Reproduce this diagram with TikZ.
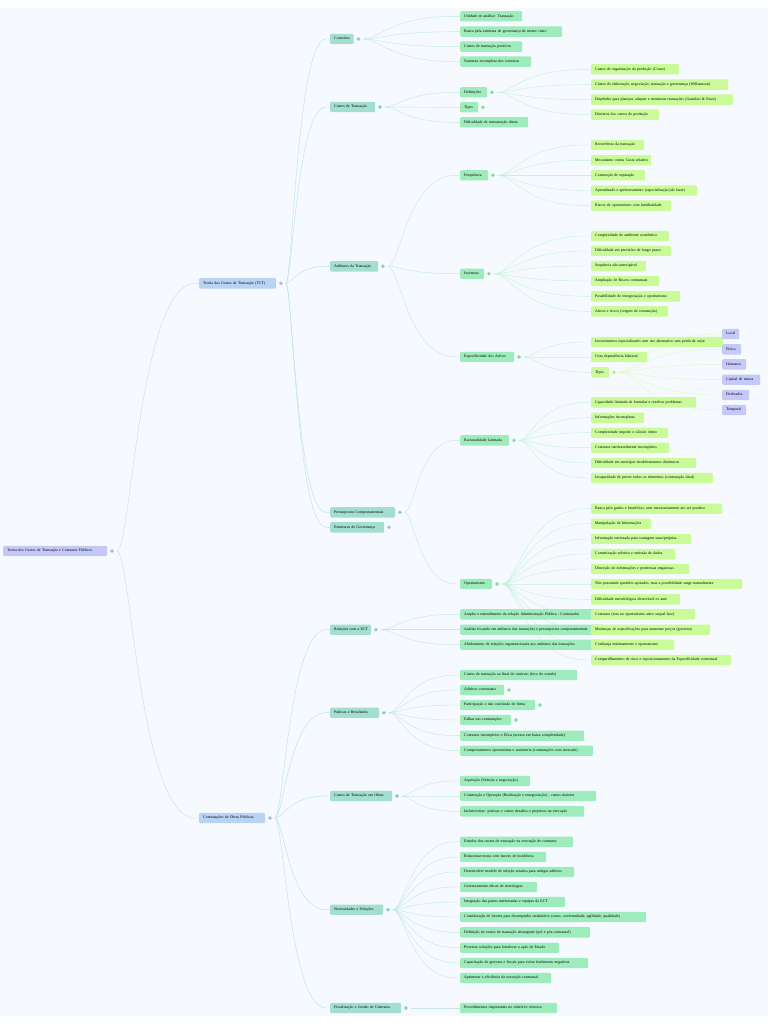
\documentclass[tikz,border=0pt]{standalone}
\usepackage{fontspec}
\setmainfont{Liberation Serif}
\usetikzlibrary{positioning,calc,backgrounds}
\definecolor{pagebg}{HTML}{F6FAFF}
\definecolor{rootc}{HTML}{C5C9FA}
\definecolor{lvla}{HTML}{B9D3F2}
\definecolor{lvlb}{HTML}{A3DFCF}
\definecolor{lvlc}{HTML}{9EECBC}
\definecolor{lvld}{HTML}{C9FC98}
\def\card#1#2#3#4#5#6{\node[cardbox,fill=#1,text width={#5pt-#3pt-8pt}] (#2) at (#3,#4) {\mbox{#6}};}
\def\knob#1#2{\node[knob,fill=#2!85!black,draw=#2,right=2.6pt of #1] (#1k) {};}
\def\link#1#2#3{\draw[linkline,#3] let \p1=(#1.east),\p2=(#2.west),\n1={\x2-\x1} in
  (\x1+3pt,\y1) .. controls (\x1+0.2*\n1,\y1) and (\x2-0.7*\n1,\y2) .. (\x2-4pt,\y2) -- (#2.west);}
\tikzstyle{cardbox}=[anchor=west,rounded corners=1.2pt,inner xsep=4pt,inner ysep=0pt,minimum height=10.4pt,
  text height=2.8pt,text depth=1pt,align=left,font=\fontsize{3.9}{4.4}\selectfont,text=black]
\tikzstyle{knob}=[circle,inner sep=0pt,minimum size=3.4pt,line width=.5pt]
\tikzstyle{linkline}=[line width=.45pt]
\begin{document}
\begin{tikzpicture}[x=1pt,y=-1pt]
  \useasboundingbox (0,0) rectangle (768,1024);
  % root and first level
  \card{rootc}{root}{3}{551}{107}{Teoria dos Custos de Transação e Contratos Públicos}
  \card{lvla}{tct}{199}{283.3}{276}{Teoria dos Custos de Transação (TCT)}
  \card{lvla}{obras}{199}{818}{265}{Contratações de Obras Públicas}
  % second level
  \card{lvlb}{conceito}{330}{39}{353.5}{Conceitos}
  \card{lvlb}{custos}{330}{107}{375}{Custos de Transação}
  \card{lvlb}{atributos}{330}{266.3}{378}{Atributos da Transação}
  \card{lvlb}{pressup}{330}{512.3}{395}{Pressupostos Comportamentais}
  \card{lvlb}{estrut}{330}{527.3}{384}{Estruturas de Governança}
  \card{lvlb}{relacoes}{330}{629.7}{371}{Relações com a ECT}
  \card{lvlb}{praticas}{330}{712.7}{379}{Práticas e Resultados}
  \card{lvlb}{emobras}{330}{796}{392}{Custos de Transação em Obras}
  \card{lvlb}{necess}{330}{909.7}{383}{Necessidades e Soluções}
  \card{lvlb}{fiscal}{330}{1008}{401}{Fiscalização e Gestão de Contratos}
  % third level
  \card{lvlc}{unidade}{460}{16.3}{522}{Unidade de análise: Transação}
  \card{lvlc}{busca}{460}{31.7}{562}{Busca pela estrutura de governança de menor custo}
  \card{lvlc}{positivos}{460}{46.7}{522}{Custos de transação positivos}
  \card{lvlc}{natureza}{460}{61.7}{531}{Natureza incompleta dos contratos}
  \card{lvlc}{defin}{460}{92.3}{487}{Definições}
  \card{lvlc}{tiposa}{460}{107.3}{478}{Tipos}
  \card{lvlc}{dific}{460}{122.3}{528}{Dificuldade de mensuração direta}
  \card{lvlc}{freq}{460}{175.3}{488}{Frequência}
  \card{lvlc}{incert}{460}{273.7}{484}{Incerteza}
  \card{lvlc}{espec}{460}{357}{514}{Especificidade dos Ativos}
  \card{lvlc}{racion}{460}{440.3}{509}{Racionalidade Limitada}
  \card{lvlc}{oport}{460}{584}{492}{Oportunismo}
  \card{lvlc}{amplia}{460}{614.3}{600}{Amplia o entendimento da relação Administração Pública - Contratados}
  \card{lvlc}{analise}{460}{629.7}{600}{Análise focando em atributos das transações e pressupostos comportamentais}
  \card{lvlc}{alinha}{460}{644.7}{600}{Alinhamento de relações organizacionais aos atributos das transações}
  \card{lvlc}{aofim}{460}{675}{577}{Custos de transação ao final do contrato (foco do estudo)}
  \card{lvlc}{aditivos}{460}{690}{504}{Aditivos contratuais}
  \card{lvlc}{particip}{460}{705}{535}{Participação e não conclusão de firma}
  \card{lvlc}{falhas}{460}{720}{511}{Falhas nas contratações}
  \card{lvlc}{incompl}{460}{735.7}{584}{Contratos incompletos e Ética (acesso em baixa complexidade)}
  \card{lvlc}{comport}{460}{750.7}{593}{Comportamentos oportunistas e assimetria (contratações com mercado)}
  \card{lvlc}{aquis}{460}{781}{530}{Aquisição (Seleção e negociação)}
  \card{lvlc}{constr}{460}{796}{596}{Construção e Operação (Realização e renegociação) - custos maiores}
  \card{lvlc}{incluir}{460}{811.3}{584}{Incluir/evitar: práticas e custos desafios e prejuízos na execução}
  \card{lvlc}{estudos}{460}{841.7}{573}{Estudos dos custos de transação na execução de contratos}
  \card{lvlc}{relacion}{460}{857}{546}{Relacionar teoria com fatores de incidência}
  \card{lvlc}{desenv}{460}{872}{574}{Desenvolver modelo de seleção atrativa para mitigar aditivos}
  \card{lvlc}{gerenc}{460}{887}{537}{Gerenciamento eficaz de tecnologias}
  \card{lvlc}{integ}{460}{902}{565}{Integração das partes interessadas e equipes da ECT}
  \card{lvlc}{consid}{460}{917}{646}{Consideração de fatores para desempenho satisfatório (custo, conformidade, agilidade, qualidade)}
  \card{lvlc}{defcust}{460}{932.3}{590}{Definição de custos de transação abrangente (pré e pós-contratual)}
  \card{lvlc}{prioriz}{460}{947.7}{559}{Priorizar soluções para fortalecer a ação de Estado}
  \card{lvlc}{capacit}{460}{963}{588}{Capacitação de gestores e fiscais para evitar fenômenos negativos}
  \card{lvlc}{aprim}{460}{978}{551}{Aprimorar a eficiência da execução contratual}
  \card{lvlc}{proced}{460}{1008}{557}{Procedimentos importantes no relatório/ técnicos}
  % fourth level
  \card{lvld}{coase}{591}{69.3}{679}{Custos de organização da produção (Coase)}
  \card{lvld}{willi}{591}{84.7}{728}{Custos de elaboração, negociação, transação e governança (Williamson)}
  \card{lvld}{grand}{591}{99.7}{733}{Dispêndio para planejar, adaptar e monitorar transações (Grandori \& Faust)}
  \card{lvld}{distin}{591}{114.7}{659}{Distintos dos custos de produção}
  \card{lvld}{recorr}{591}{145}{644}{Recorrência da transação}
  \card{lvld}{mecan}{591}{160.3}{651}{Mecanismo contra Custo relativo}
  \card{lvld}{reput}{591}{175.3}{645}{Construção de reputação}
  \card{lvld}{aprend}{591}{190.5}{697}{Aprendizado e aprimoramento (especialização/job fazer)}
  \card{lvld}{riscos}{591}{205.7}{671}{Riscos de oportunismo com familiaridade}
  \card{lvld}{comple}{591}{236}{669}{Complexidade do ambiente econômico}
  \card{lvld}{prev}{591}{251}{671}{Dificuldade em previsões de longo prazo}
  \card{lvld}{sequen}{591}{266}{646}{Sequência não-antecipável}
  \card{lvld}{amplid}{591}{281}{659}{Ampliação de Riscos contratuais}
  \card{lvld}{renego}{591}{296.3}{680}{Possibilidade de renegociação e oportunismo}
  \card{lvld}{ativos}{591}{311.3}{668}{Ativos e riscos (origem de construção)}
  \card{lvld}{invest}{591}{342}{723}{Investimentos especializados sem uso alternativo sem perda de valor}
  \card{lvld}{bilat}{591}{357}{647}{Gera dependência bilateral}
  \card{lvld}{tiposb}{591}{372.3}{609}{Tipos}
  \card{lvld}{capac}{591}{402.3}{696}{Capacidade limitada de formular e resolver problemas}
  \card{lvld}{inform}{591}{417.7}{644}{Informações incompletas}
  \card{lvld}{calculo}{591}{432.7}{668}{Complexidade impede o cálculo ótimo}
  \card{lvld}{inevit}{591}{447.7}{669}{Contratos inevitavelmente incompletos}
  \card{lvld}{desdob}{591}{463}{696}{Dificuldade em antecipar desdobramentos dinâmicos}
  \card{lvld}{incap}{591}{478}{713}{Incapacidade de prever todos os elementos (contratação ideal)}
  \card{lvld}{ganho}{591}{508.7}{722}{Busca pelo ganho e benefícios, sem necessariamente ato ser positivo}
  \card{lvld}{manip}{591}{523.7}{651}{Manipulação de Informações}
  \card{lvld}{envies}{591}{539}{691}{Informação enviesada para vantagem unas/próprias}
  \card{lvld}{seletiva}{591}{554}{675}{Comunicação seletiva e omissão de dados}
  \card{lvld}{distor}{591}{569}{689}{Distorção de informações e promessas enganosas}
  \card{lvld}{naoposs}{591}{584}{742}{Não possuindo questões apoiados, mas a possibilidade surge naturalmente}
  \card{lvld}{metodo}{591}{599.3}{680}{Dificuldade metodológica observável ex ante}
  \card{lvld}{reta}{591}{614.3}{695}{Contratos (reta no oportunismo ativo sequal face)}
  \card{lvld}{mudanc}{591}{629.7}{710}{Mudanças de especificações para aumentar preços (governo)}
  \card{lvld}{confia}{591}{644.7}{674}{Confiança minimamente e oportunismo}
  \card{lvld}{compart}{591}{660}{731}{Compartilhamento de risco e reposicionamento da Especificidade contextual}
  % fifth level
  \card{rootc}{local}{722}{334}{739}{Local}
  \card{rootc}{fisica}{722}{349.3}{741}{Física}
  \card{rootc}{humanos}{722}{364.3}{746}{Humanos}
  \card{rootc}{marca}{722}{379.7}{760}{Capital de marca}
  \card{rootc}{dedic}{722}{395}{749}{Dedicados}
  \card{rootc}{tempo}{722}{410}{746}{Temporal}
  % fold markers
  \knob{root}{rootc}
  \foreach \kid in {tct,obras} {\knob{\kid}{rootc}}
  \foreach \kid in {conceito,custos,atributos,pressup,estrut,relacoes,praticas,emobras,necess,fiscal} {\knob{\kid}{lvlb}}
  \foreach \kid in {defin,tiposa,freq,incert,espec,racion,oport,aditivos,particip,falhas} {\knob{\kid}{lvlc}}
  \knob{tiposb}{lvld}
  % connectors, behind the cards
  \begin{scope}[on background layer]
    \fill[pagebg] (0,8) rectangle (768,1016);
    \foreach \kid in {tct,obras} {\link{rootk}{\kid}{lvla!75!pagebg}}
    \foreach \kid in {conceito,custos,atributos,pressup,estrut} {\link{tctk}{\kid}{lvlb!75!lvla!75!pagebg}}
    \foreach \kid in {relacoes,praticas,emobras,necess,fiscal} {\link{obrask}{\kid}{lvlb!75!lvla!75!pagebg}}
    \foreach \kid in {unidade,busca,positivos,natureza} {\link{conceitok}{\kid}{lvlb!60!pagebg}}
    \foreach \kid in {defin,tiposa,dific} {\link{custosk}{\kid}{lvlb!60!pagebg}}
    \foreach \kid in {freq,incert,espec} {\link{atributosk}{\kid}{lvlb!60!pagebg}}
    \foreach \kid in {racion,oport} {\link{pressupk}{\kid}{lvlb!60!pagebg}}
    \foreach \kid in {amplia,analise,alinha} {\link{relacoesk}{\kid}{lvlb!60!pagebg}}
    \foreach \kid in {aofim,aditivos,particip,falhas,incompl,comport} {\link{praticask}{\kid}{lvlb!60!pagebg}}
    \foreach \kid in {aquis,constr,incluir} {\link{emobrask}{\kid}{lvlb!60!pagebg}}
    \foreach \kid in {estudos,relacion,desenv,gerenc,integ,consid,defcust,prioriz,capacit,aprim} {\link{necessk}{\kid}{lvlb!60!pagebg}}
    \link{fiscalk}{proced}{lvlb!60!pagebg}
    \foreach \kid in {coase,willi,grand,distin} {\link{defink}{\kid}{lvlc!55!pagebg}}
    \foreach \kid in {recorr,mecan,reput,aprend,riscos} {\link{freqk}{\kid}{lvlc!55!pagebg}}
    \foreach \kid in {comple,prev,sequen,amplid,renego,ativos} {\link{incertk}{\kid}{lvlc!55!pagebg}}
    \foreach \kid in {invest,bilat,tiposb} {\link{especk}{\kid}{lvlc!55!pagebg}}
    \foreach \kid in {capac,inform,calculo,inevit,desdob,incap} {\link{racionk}{\kid}{lvlc!55!pagebg}}
    \foreach \kid in {ganho,manip,envies,seletiva,distor,naoposs,metodo,reta,mudanc,confia,compart} {\link{oportk}{\kid}{lvlc!55!pagebg}}
    \foreach \kid in {local,fisica,humanos,marca,dedic,tempo} {\link{tiposbk}{\kid}{lvld!55!pagebg}}
  \end{scope}
\end{tikzpicture}
\end{document}
